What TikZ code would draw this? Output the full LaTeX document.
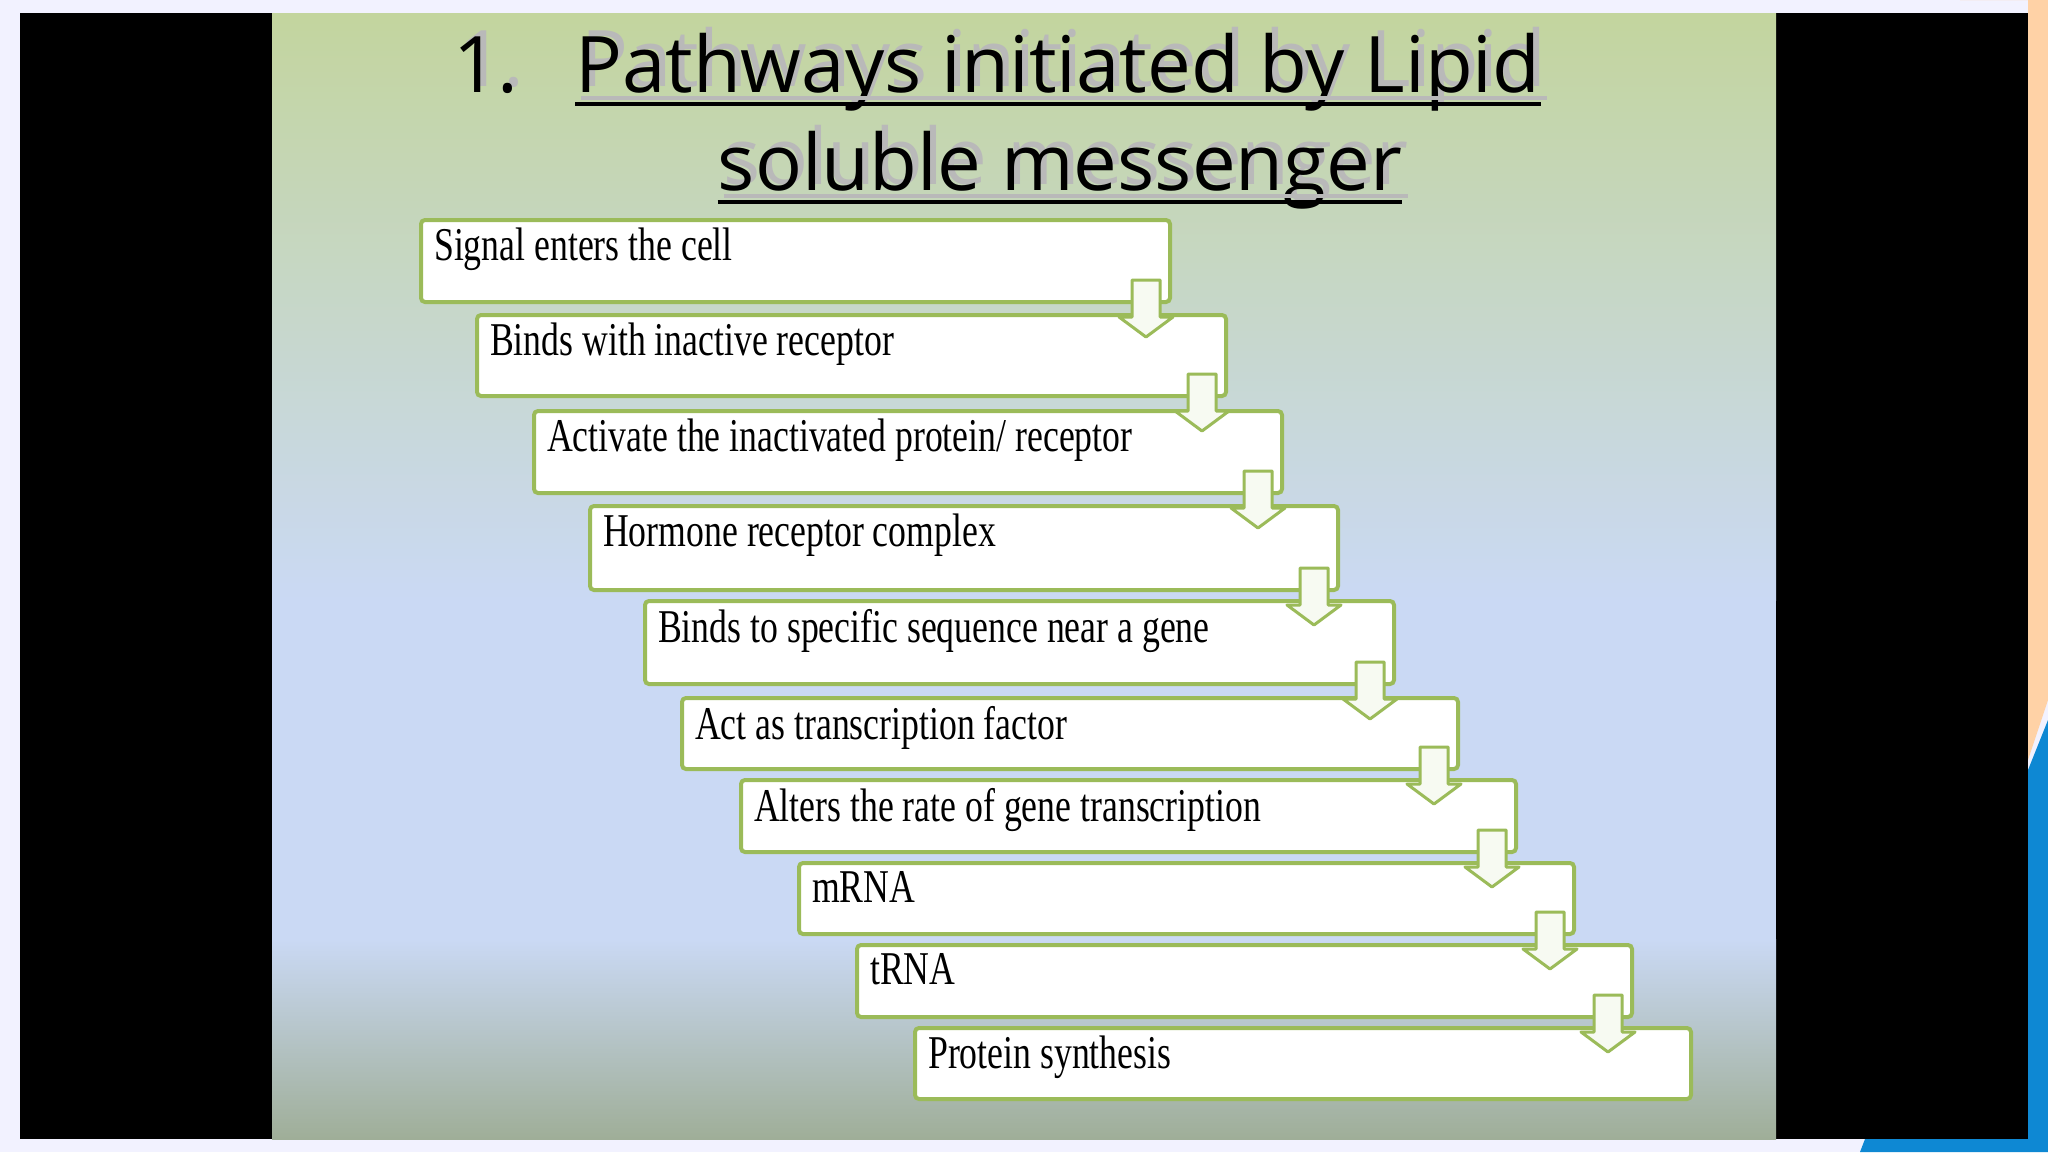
\documentclass[tikz,border=0pt]{standalone}
\usepackage{fontspec}
\setmainfont{Liberation Serif}
\newfontfamily\titlefont{Open Sans}
\usetikzlibrary{calc}
\definecolor{boxgreen}{HTML}{9BBB59}
\definecolor{bgtop}{HTML}{C3D59E}
\definecolor{bgmid}{HTML}{CAD9F4}
\definecolor{bgbot}{HTML}{9FAE98}
\tikzset{
  stepbox/.style={draw=boxgreen,line width=4pt,fill=white,rounded corners=4pt,anchor=north west,minimum height=#1,inner sep=0pt},
  steptext/.style={anchor=north west,font=\fontsize{47}{47}\selectfont,xscale=0.76,inner sep=0pt},
  downarrow/.style={draw=boxgreen,line width=3pt,fill=white!92!boxgreen,line join=round},
  uline/.style={line width=4.5pt}
}
\newcommand{\stepnode}[6]{% name, x1, y1, x2, y2, text
  \node[stepbox=#5pt-#3pt,minimum width=#4pt-#2pt] (#1) at (#2,#3) {};
  \node[steptext] (#1t) at ($(#2,#3)+(15,10)$) {#6};
}
\newcommand{\darrow}[1]{%
  \path let \p1=(#1.south east) in coordinate (#1a) at (\x1-26pt,\y1);
  \draw[downarrow] ($(#1a)+(-14,-24)$) -- ($(#1a)+(14,-24)$) -- ($(#1a)+(14,13)$) -- ($(#1a)+(27,13)$) -- ($(#1a)+(0,33)$) -- ($(#1a)+(-27,13)$) -- ($(#1a)+(-14,13)$) -- cycle;
}
\begin{document}
\begin{tikzpicture}[x=1pt,y=-1pt]
\useasboundingbox (0,0) rectangle (2048,1152);
\fill[white!95!blue] (0,0) rectangle (2048,1152);
\fill[orange!35] (1960,0) -- (2048,0) -- (2048,700) -- (2028,760) -- (2028,0) -- cycle;
\fill[cyan!70!blue] (2028,770) -- (2048,720) -- (2048,1152) -- (1860,1152) -- (1865,1139) -- (2028,1139) -- cycle;
\fill[black] (20,13) rectangle (2028,1139);
\shade[top color=bgtop,bottom color=bgmid] (272,13) rectangle (1776,600);
\fill[bgmid] (272,599) rectangle (1776,940);
\shade[top color=bgmid,bottom color=bgbot] (272,939) rectangle (1776,1139);
% title
\begin{scope}[font=\titlefont\fontsize{78}{78}\selectfont]
\node[text=gray!55,anchor=base west,inner sep=0pt] at (459,86) {1.};
\node[text=gray!55,anchor=base west,inner sep=0pt] (s2) at (581,86) {Pathways initiated by Lipid};
\node[text=gray!55,anchor=base,inner sep=0pt] (s3) at (1066,184) {soluble messenger};
\node[anchor=base west,inner sep=0pt] (t1) at (453,92) {1.};
\node[anchor=base west,inner sep=0pt] (t2) at (575,92) {Pathways initiated by Lipid};
\node[anchor=base,inner sep=0pt] (t3) at (1060,190) {soluble messenger};
\end{scope}
\draw[uline,gray!55] ($(s2.base west)+(0,12)$) -- ($(s2.base east)+(0,12)$);
\draw[uline,gray!55] ($(s3.base west)+(0,12)$) -- ($(s3.base east)+(0,12)$);
\draw[uline] ($(t2.base west)+(0,12)$) -- ($(t2.base east)+(0,12)$);
\draw[uline] ($(t3.base west)+(0,12)$) -- ($(t3.base east)+(0,12)$);
\stepnode{b1}{419}{218}{1168}{300}{Signal enters the  cell}
\stepnode{b2}{475}{313}{1224}{394}{Binds with inactive receptor}
\stepnode{b3}{532}{409}{1280}{491}{Activate the inactivated protein/ receptor}
\stepnode{b4}{588}{504}{1336}{588}{Hormone receptor  complex}
\stepnode{b5}{643}{599}{1392}{682}{Binds to specific sequence near a gene}
\stepnode{b6}{680}{696}{1456}{767}{Act as transcription  factor}
\stepnode{b7}{739}{778}{1514}{850}{Alters the rate of gene transcription}
\stepnode{b8}{797}{861}{1572}{932}{mRNA}
\stepnode{b9}{855}{943}{1630}{1015}{tRNA}
\stepnode{b10}{913}{1026}{1689}{1097}{Protein synthesis}
\foreach \b in {b1,b2,b3,b4,b5,b6,b7,b8,b9}{\darrow{\b}}
\end{tikzpicture}
\end{document}
